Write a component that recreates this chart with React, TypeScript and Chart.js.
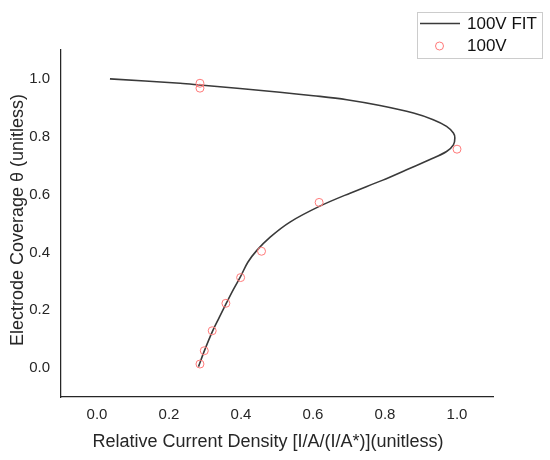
import React, { useEffect, useRef } from "react";
import { Chart, registerables } from "chart.js";

Chart.register(...registerables);

const FIT_X = [0.036, 0.231, 0.286, 0.508, 0.601, 0.694, 0.786, 0.879, 0.934, 0.971, 0.99, 0.994, 0.99, 0.971, 0.925, 0.86, 0.794, 0.703, 0.619, 0.536, 0.481, 0.444, 0.419, 0.399, 0.379, 0.36, 0.34, 0.321, 0.299, 0.282];
const FIT_Y = [1.0, 0.985, 0.979, 0.954, 0.942, 0.928, 0.908, 0.882, 0.859, 0.836, 0.813, 0.796, 0.772, 0.749, 0.721, 0.686, 0.65, 0.605, 0.56, 0.505, 0.453, 0.407, 0.366, 0.317, 0.272, 0.226, 0.176, 0.128, 0.062, 0.005];
const DATA_X = [0.286, 0.286, 0.286, 0.298, 0.32, 0.358, 0.399, 0.457, 0.617, 1.0];
const DATA_Y = [0.985, 0.968, 0.014, 0.06, 0.129, 0.224, 0.313, 0.404, 0.573, 0.757];
const X_TICKS = [0, 0.2, 0.4, 0.6, 0.8, 1.0];
const Y_TICKS = [0, 0.2, 0.4, 0.6, 0.8, 1.0];
const FIT_LABEL = "100V FIT";
const DATA_LABEL = "100V";
const X_TITLE = "Relative Current Density [I/A/(I/A*)](unitless)";
const Y_TITLE = "Electrode Coverage θ (unitless)";

const FONT = '"Liberation Sans", Arial, sans-serif';
const INK = "#262626";
const LINE = "#3a3a3a";
const MARK = "#ff7a7a";

export default function App() {
  const ref = useRef<HTMLCanvasElement>(null);

  useEffect(() => {
    if (!ref.current) return;
    const decorPlugin = {
      id: "decor",
      afterDraw(chart: any) {
        const ctx = chart.ctx as CanvasRenderingContext2D;
        ctx.save();
        // axis titles
        ctx.fillStyle = INK;
        ctx.font = `18px ${FONT}`;
        ctx.textAlign = "center";
        ctx.textBaseline = "middle";
        ctx.fillText(X_TITLE, 268, 442);
        ctx.save();
        ctx.translate(18, 220);
        ctx.rotate(-Math.PI / 2);
        ctx.fillText(Y_TITLE, 0, 0);
        ctx.restore();
        // legend
        ctx.fillStyle = "#ffffff";
        ctx.fillRect(417, 12, 125, 46);
        ctx.strokeStyle = "#cccccc";
        ctx.lineWidth = 1;
        ctx.strokeRect(417.5, 12.5, 125, 46);
        ctx.strokeStyle = LINE;
        ctx.lineWidth = 1.6;
        ctx.beginPath();
        ctx.moveTo(420, 23.5);
        ctx.lineTo(460, 23.5);
        ctx.stroke();
        ctx.strokeStyle = MARK;
        ctx.lineWidth = 1;
        ctx.beginPath();
        ctx.arc(439.5, 46, 4, 0, Math.PI * 2);
        ctx.stroke();
        ctx.fillStyle = "#111111";
        ctx.font = `17px ${FONT}`;
        ctx.textAlign = "left";
        ctx.fillText(FIT_LABEL, 467, 24);
        ctx.fillText(DATA_LABEL, 467, 46);
        ctx.restore();
      },
    };

    const chart = new Chart(ref.current, {
      type: "scatter",
      data: {
        datasets: [
          {
            label: FIT_LABEL,
            data: FIT_X.map((x, i) => ({ x, y: FIT_Y[i] })),
            showLine: true,
            borderColor: LINE,
            borderWidth: 1.6,
            pointRadius: 0,
            pointHoverRadius: 0,
            tension: 0.35,
            fill: false,
            order: 2,
          } as any,
          {
            label: DATA_LABEL,
            data: DATA_X.map((x, i) => ({ x, y: DATA_Y[i] })),
            showLine: false,
            pointRadius: 4,
            pointBorderWidth: 1,
            pointBorderColor: MARK,
            pointBackgroundColor: "rgba(0,0,0,0)",
            order: 1,
          } as any,
        ],
      },
      options: {
        animation: false,
        responsive: false,
        layout: { padding: { top: 50, right: 57, left: 0, bottom: 0 } },
        plugins: {
          legend: { display: false },
          tooltip: { enabled: false },
        },
        scales: {
          x: {
            type: "linear",
            min: -0.1,
            max: 1.1,
            afterBuildTicks: (s: any) => {
              s.ticks = X_TICKS.map((v) => ({ value: v }));
            },
            afterFit: (s: any) => {
              s.height = 63;
            },
            grid: { display: false, drawTicks: false },
            border: { display: true, color: INK, width: 1.25 },
            ticks: {
              padding: 9,
              color: INK,
              font: { size: 15, family: FONT },
              maxRotation: 0,
              autoSkip: false,
              callback: (v: any) => Number(v).toFixed(1),
            },
            title: { display: false },
          },
          y: {
            type: "linear",
            min: -0.1,
            max: 1.1,
            afterBuildTicks: (s: any) => {
              s.ticks = Y_TICKS.map((v) => ({ value: v }));
            },
            afterFit: (s: any) => {
              s.width = 61;
            },
            grid: { display: false, drawTicks: false },
            border: { display: true, color: INK, width: 1.25 },
            ticks: {
              padding: 11,
              color: INK,
              font: { size: 15, family: FONT },
              autoSkip: false,
              callback: (v: any) => Number(v).toFixed(1),
            },
            title: { display: false },
          },
        },
      },
      plugins: [decorPlugin],
    });
    return () => chart.destroy();
  }, []);

  return (
    <div style={{ position: "absolute", left: 0, top: 0, width: 550, height: 460, background: "#fff" }}>
      <canvas ref={ref} width={550} height={460} style={{ display: "block", width: 550, height: 460 }} />
    </div>
  );
}
